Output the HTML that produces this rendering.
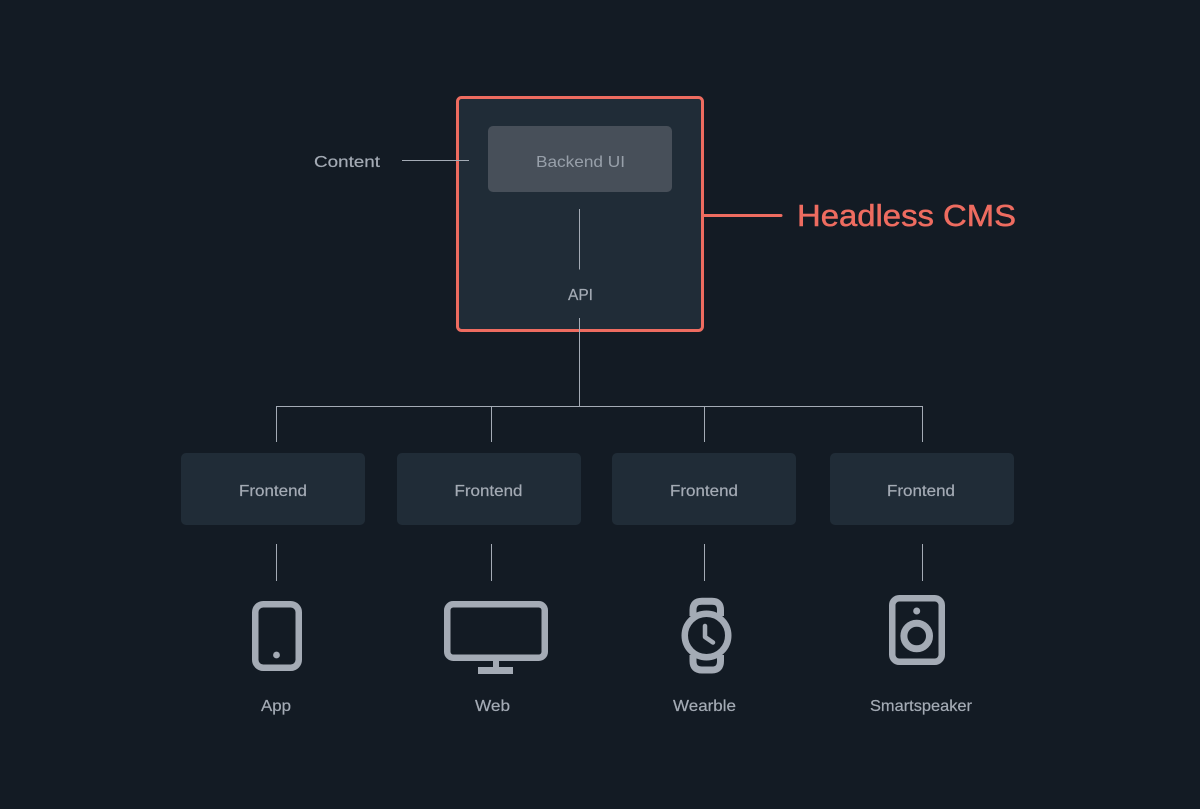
<!DOCTYPE html>
<html><head><meta charset="utf-8"><style>
html,body{margin:0;padding:0;background:#131b24}
svg{display:block}
text{font-family:"Liberation Sans",sans-serif;text-anchor:middle}
.t{stroke:#a4abb5;stroke-width:.2}
</style></head><body>
<svg width="1200" height="809" viewBox="0 0 1200 809" xmlns="http://www.w3.org/2000/svg">
<rect width="1200" height="809" fill="#131b24"/>
<rect x="457.500" y="97.500" width="245" height="233" rx="4" fill="#202c37" stroke="#ee6c60" stroke-width="3"/>
<rect x="488" y="126" width="184" height="66" rx="5" fill="#474f59"/>
<g stroke="#a4abb5" stroke-width="1" fill="none">
<path d="M402 160.500H469M579.500 209V269.500M579.500 318V406M276.500 442V406.500H922.500V442M491.500 406V442M704.500 406V442M276.500 544V581M491.500 544V581M704.500 544V581M922.500 544V581"/>
</g>
<path d="M703 215.500H781" stroke="#ee6c60" stroke-width="3" stroke-linecap="round"/>
<g fill="#202c37">
<rect x="181" y="453" width="184" height="72" rx="5"/>
<rect x="397" y="453" width="184" height="72" rx="5"/>
<rect x="612" y="453" width="184" height="72" rx="5"/>
<rect x="830" y="453" width="184" height="72" rx="5"/>
</g>
<g fill="#a4abb5" font-size="16">
<text class="t" x="347" y="167" textLength="66" lengthAdjust="spacingAndGlyphs">Content</text>
<text x="580.500" y="167" textLength="89" lengthAdjust="spacingAndGlyphs" fill="#98a0aa">Backend UI</text>
<text class="t" x="580.500" y="300" textLength="25" lengthAdjust="spacingAndGlyphs">API</text>
<text class="t" x="273" y="496" textLength="68" lengthAdjust="spacingAndGlyphs">Frontend</text>
<text class="t" x="488.500" y="496" textLength="68" lengthAdjust="spacingAndGlyphs">Frontend</text>
<text class="t" x="704" y="496" textLength="68" lengthAdjust="spacingAndGlyphs">Frontend</text>
<text class="t" x="921" y="496" textLength="68" lengthAdjust="spacingAndGlyphs">Frontend</text>
<text class="t" x="276" y="711" textLength="30" lengthAdjust="spacingAndGlyphs">App</text>
<text class="t" x="492.500" y="711" textLength="35" lengthAdjust="spacingAndGlyphs">Web</text>
<text class="t" x="704.500" y="711" textLength="63" lengthAdjust="spacingAndGlyphs">Wearble</text>
<text class="t" x="921" y="711" textLength="102" lengthAdjust="spacingAndGlyphs">Smartspeaker</text>
</g>
<text x="906.500" y="226" font-size="30.500" textLength="219" lengthAdjust="spacingAndGlyphs" fill="#ee6c60" stroke="#ee6c60" stroke-width=".5">Headless CMS</text>
<g fill="none" stroke="#a4abb5" stroke-width="6.500">
<rect x="255.250" y="604.250" width="43.500" height="63.500" rx="8"/>
<rect x="447.250" y="604.250" width="97.500" height="53.500" rx="6"/>
<path d="M496 660V669" stroke-width="6"/>
<path d="M478 670.500H513" stroke-width="7"/>
<circle cx="706.500" cy="635.500" r="21.750"/>
<path d="M693 616V610Q693 601.250 702 601.250H712Q720.500 601.250 720.500 610V616M693 655V661Q693 670 702 670H712Q720.500 670 720.500 661V655" stroke-width="7"/>
<path d="M705 626V637L713 642.500" stroke-linecap="round" stroke-linejoin="round" stroke-width="4.500"/>
<rect x="892.250" y="598.250" width="49.500" height="63.500" rx="7"/>
<circle cx="916.700" cy="636" r="12.800" stroke-width="7"/>
</g>
<circle cx="276.500" cy="655" r="3.400" fill="#a4abb5"/>
<circle cx="916.700" cy="611" r="3.500" fill="#a4abb5"/>
</svg>
</body></html>
